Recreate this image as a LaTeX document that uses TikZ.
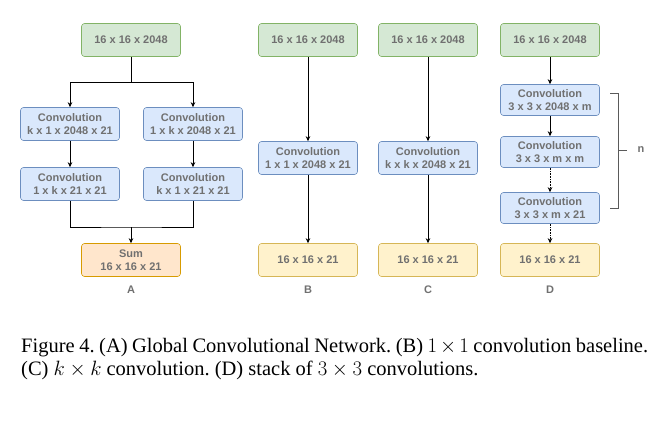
\documentclass[tikz,border=0pt]{standalone}
\usepackage{fontspec}
\setmainfont{Liberation Serif}
\newfontfamily\boxfont{Liberation Sans}
\usetikzlibrary{arrows.meta}
\definecolor{txtgray}{HTML}{707070}
\tikzset{
  blk/.style={draw, rounded corners=3pt, minimum width=99pt, minimum height=33pt,
    inner sep=1pt, align=center, font=\boxfont\bfseries\fontsize{11}{13}\selectfont, text=txtgray, line width=.6pt},
  inp/.style={blk, fill={rgb,255:red,213;green,232;blue,212}, draw={rgb,255:red,130;green,179;blue,102}},
  conv/.style={blk, fill={rgb,255:red,218;green,232;blue,252}, draw={rgb,255:red,108;green,142;blue,191}},
  outp/.style={blk, fill={rgb,255:red,255;green,242;blue,204}, draw={rgb,255:red,214;green,182;blue,86}},
  summ/.style={blk, fill={rgb,255:red,255;green,230;blue,204}, draw={rgb,255:red,215;green,155;blue,0}},
  lbl/.style={font=\boxfont\bfseries\fontsize{11}{13}\selectfont, text=txtgray},
  arr/.style={-{Stealth[length=5pt,width=4.5pt]}, line width=.6pt}
}
\begin{document}
\begin{tikzpicture}[x=1pt,y=-1pt]
\useasboundingbox (0,0) rectangle (669,436);

      %% A: two branches summed
      \node (ain) at (131,40) [inp] {16 x 16 x 2048};
      \node (al1) at (70,124) [conv] {Convolution\\k x 1 x 2048 x 21};
      \node (ar1) at (193,124) [conv] {Convolution\\1 x k x 2048 x 21};
      \node (al2) at (70,184) [conv] {Convolution\\1 x k x 21 x 21};
      \node (ar2) at (193,184) [conv] {Convolution\\k x 1 x 21 x 21};
      \node (asum) at (131,260) [summ] {Sum\\16 x 16 x 21};
      \coordinate (asplit) at (131,82);
      \coordinate (ajoin) at (131,227);
      \draw[line width=.6pt] (ain) -- (asplit);
      \draw[arr] (asplit) -| (al1);
      \draw[arr] (asplit) -| (ar1);
      \draw[arr] (al1) -- (al2);
      \draw[arr] (ar1) -- (ar2);
      \draw[line width=.6pt] (al2) |- (ajoin) -| (ar2);
      \draw[arr] (ajoin) -- (asum);
      \node (la) at (131,290) [lbl] {A};

      %% B and C: a single convolution
      \foreach \c/\x/\k in {b/308/1 x 1,c/428/k x k}
      { \node (\c in) at (\x,40) [inp] {16 x 16 x 2048};
        \node (\c conv) at (\x,158) [conv] {Convolution\\\k{} x 2048 x 21};
        \node (\c out) at (\x,260) [outp] {16 x 16 x 21};
        \draw[arr] (\c in) -- (\c conv);
        \draw[arr] (\c conv) -- (\c out); }
      \node (lb) at (308,290) [lbl] {B};
      \node (lc) at (428,290) [lbl] {C};

      %% D: stack of 3 x 3 convolutions
      \node (din) at (550,40) [inp] {16 x 16 x 2048};
      \node (d1) at (550,100) [conv, minimum height=31pt] {Convolution\\3 x 3 x 2048 x m};
      \node (d2) at (550,152) [conv, minimum height=31pt] {Convolution\\3 x 3 x m x m};
      \node (d3) at (550,208) [conv, minimum height=31pt] {Convolution\\3 x 3 x m x 21};
      \node (dout) at (550,260) [outp] {16 x 16 x 21};
      \draw[arr] (din) -- (d1);
      \draw[arr] (d1) -- (d2);
      \draw[arr, densely dotted] (d2) -- (d3);
      \draw[arr, densely dotted] (d3) -- (dout);
      \draw[line width=.6pt, draw=txtgray!80!black] (610,93) -- (618,93) -- (618,208) -- (610,208)
        (618,150) -- (627,150);
      \node (nn) at (641,150) [lbl] {n};
      \node (ld) at (550,290) [lbl] {D};

      \node (cap) at (21,338) [anchor=north west, text width=627pt, align=justify,
        font=\fontsize{20.5}{23}\selectfont, inner sep=0pt]
        {\frenchspacing Figure 4. (A) Global Convolutional Network. (B) $1\times1$ convolution baseline. (C) $k\times k$ convolution. (D) stack of $3\times3$ convolutions.};

\end{tikzpicture}
\end{document}
